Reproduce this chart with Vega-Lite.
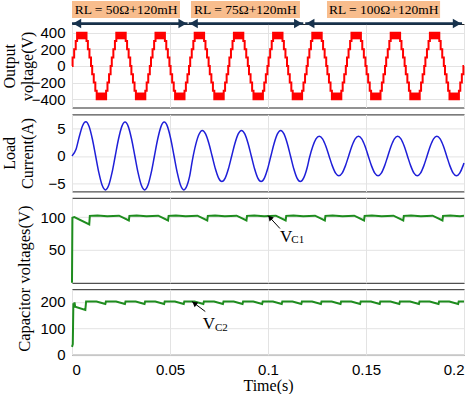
{
"$schema": "https://vega.github.io/schema/vega-lite/v6.json",
"padding": {"left": 0, "top": 0, "right": 0, "bottom": 0},
"bounds": "flush",
"spacing": 6.4,
"config": {
"view": {"stroke": "#262626", "strokeWidth": 1},
"axis": {"labelFont": "Liberation Sans", "labelFontSize": 15, "labelColor": "#000", "titleFont": "Liberation Serif", "titleFontSize": 16, "titleFontWeight": "normal", "titleColor": "#000", "gridColor": "#e3e3e3", "gridWidth": 1, "domain": false, "ticks": false, "labelPadding": 7, "labelOverlap": false, "tickCount": 12}
},
"datasets": {
"vout": [
{"t":0,"v":0},
{"t":0.0003,"v":100},{"t":0.0011,"v":200},{"t":0.0019,"v":300},{"t":0.0026,"v":400},{"t":0.0074,"v":300},{"t":0.0081,"v":200},{"t":0.0089,"v":100},{"t":0.0097,"v":0},
{"t":0.0103,"v":-100},{"t":0.0111,"v":-200},{"t":0.0119,"v":-300},{"t":0.0126,"v":-400},{"t":0.0174,"v":-300},{"t":0.0181,"v":-200},{"t":0.0189,"v":-100},{"t":0.0197,"v":0},
{"t":0.0203,"v":100},{"t":0.0211,"v":200},{"t":0.0219,"v":300},{"t":0.0226,"v":400},{"t":0.0274,"v":300},{"t":0.0281,"v":200},{"t":0.0289,"v":100},{"t":0.0297,"v":0},
{"t":0.0303,"v":-100},{"t":0.0311,"v":-200},{"t":0.0319,"v":-300},{"t":0.0326,"v":-400},{"t":0.0374,"v":-300},{"t":0.0381,"v":-200},{"t":0.0389,"v":-100},{"t":0.0397,"v":0},
{"t":0.0403,"v":100},{"t":0.0411,"v":200},{"t":0.0419,"v":300},{"t":0.0426,"v":400},{"t":0.0474,"v":300},{"t":0.0481,"v":200},{"t":0.0489,"v":100},{"t":0.0497,"v":0},
{"t":0.0503,"v":-100},{"t":0.0511,"v":-200},{"t":0.0519,"v":-300},{"t":0.0526,"v":-400},{"t":0.0574,"v":-300},{"t":0.0581,"v":-200},{"t":0.0589,"v":-100},{"t":0.0597,"v":0},
{"t":0.0603,"v":100},{"t":0.0611,"v":200},{"t":0.0619,"v":300},{"t":0.0626,"v":400},{"t":0.0674,"v":300},{"t":0.0681,"v":200},{"t":0.0689,"v":100},{"t":0.0697,"v":0},
{"t":0.0703,"v":-100},{"t":0.0711,"v":-200},{"t":0.0719,"v":-300},{"t":0.0726,"v":-400},{"t":0.0774,"v":-300},{"t":0.0781,"v":-200},{"t":0.0789,"v":-100},{"t":0.0797,"v":0},
{"t":0.0803,"v":100},{"t":0.0811,"v":200},{"t":0.0819,"v":300},{"t":0.0826,"v":400},{"t":0.0874,"v":300},{"t":0.0881,"v":200},{"t":0.0889,"v":100},{"t":0.0897,"v":0},
{"t":0.0903,"v":-100},{"t":0.0911,"v":-200},{"t":0.0919,"v":-300},{"t":0.0926,"v":-400},{"t":0.0974,"v":-300},{"t":0.0981,"v":-200},{"t":0.0989,"v":-100},{"t":0.0997,"v":0},
{"t":0.1003,"v":100},{"t":0.1011,"v":200},{"t":0.1019,"v":300},{"t":0.1026,"v":400},{"t":0.1074,"v":300},{"t":0.1081,"v":200},{"t":0.1089,"v":100},{"t":0.1097,"v":0},
{"t":0.1103,"v":-100},{"t":0.1111,"v":-200},{"t":0.1119,"v":-300},{"t":0.1126,"v":-400},{"t":0.1174,"v":-300},{"t":0.1181,"v":-200},{"t":0.1189,"v":-100},{"t":0.1197,"v":0},
{"t":0.1203,"v":100},{"t":0.1211,"v":200},{"t":0.1219,"v":300},{"t":0.1226,"v":400},{"t":0.1274,"v":300},{"t":0.1281,"v":200},{"t":0.1289,"v":100},{"t":0.1297,"v":0},
{"t":0.1303,"v":-100},{"t":0.1311,"v":-200},{"t":0.1319,"v":-300},{"t":0.1326,"v":-400},{"t":0.1374,"v":-300},{"t":0.1381,"v":-200},{"t":0.1389,"v":-100},{"t":0.1397,"v":0},
{"t":0.1403,"v":100},{"t":0.1411,"v":200},{"t":0.1419,"v":300},{"t":0.1426,"v":400},{"t":0.1474,"v":300},{"t":0.1481,"v":200},{"t":0.1489,"v":100},{"t":0.1497,"v":0},
{"t":0.1503,"v":-100},{"t":0.1511,"v":-200},{"t":0.1519,"v":-300},{"t":0.1526,"v":-400},{"t":0.1574,"v":-300},{"t":0.1581,"v":-200},{"t":0.1589,"v":-100},{"t":0.1597,"v":0},
{"t":0.1603,"v":100},{"t":0.1611,"v":200},{"t":0.1619,"v":300},{"t":0.1626,"v":400},{"t":0.1674,"v":300},{"t":0.1681,"v":200},{"t":0.1689,"v":100},{"t":0.1697,"v":0},
{"t":0.1703,"v":-100},{"t":0.1711,"v":-200},{"t":0.1719,"v":-300},{"t":0.1726,"v":-400},{"t":0.1774,"v":-300},{"t":0.1781,"v":-200},{"t":0.1789,"v":-100},{"t":0.1797,"v":0},
{"t":0.1803,"v":100},{"t":0.1811,"v":200},{"t":0.1819,"v":300},{"t":0.1826,"v":400},{"t":0.1874,"v":300},{"t":0.1881,"v":200},{"t":0.1889,"v":100},{"t":0.1897,"v":0},
{"t":0.1903,"v":-100},{"t":0.1911,"v":-200},{"t":0.1919,"v":-300},{"t":0.1926,"v":-400},{"t":0.1974,"v":-300},{"t":0.1981,"v":-200},{"t":0.1989,"v":-100},{"t":0.1997,"v":0},
{"t":0.2,"v":0}
],
"blk": [
{"t1":0.0026,"t2":0.0074,"lo":320,"hi":400},{"t1":0.0126,"t2":0.0174,"lo":-400,"hi":-320},
{"t1":0.0226,"t2":0.0274,"lo":320,"hi":400},{"t1":0.0326,"t2":0.0374,"lo":-400,"hi":-320},
{"t1":0.0426,"t2":0.0474,"lo":320,"hi":400},{"t1":0.0526,"t2":0.0574,"lo":-400,"hi":-320},
{"t1":0.0626,"t2":0.0674,"lo":320,"hi":400},{"t1":0.0726,"t2":0.0774,"lo":-400,"hi":-320},
{"t1":0.0826,"t2":0.0874,"lo":320,"hi":400},{"t1":0.0926,"t2":0.0974,"lo":-400,"hi":-320},
{"t1":0.1026,"t2":0.1074,"lo":320,"hi":400},{"t1":0.1126,"t2":0.1174,"lo":-400,"hi":-320},
{"t1":0.1226,"t2":0.1274,"lo":320,"hi":400},{"t1":0.1326,"t2":0.1374,"lo":-400,"hi":-320},
{"t1":0.1426,"t2":0.1474,"lo":320,"hi":400},{"t1":0.1526,"t2":0.1574,"lo":-400,"hi":-320},
{"t1":0.1626,"t2":0.1674,"lo":320,"hi":400},{"t1":0.1726,"t2":0.1774,"lo":-400,"hi":-320},
{"t1":0.1826,"t2":0.1874,"lo":320,"hi":400},{"t1":0.1926,"t2":0.1974,"lo":-400,"hi":-320}
],
"box": [
{"t1":0,"t2":0.0551,"lo":576,"hi":780,"tc":0.0276,"vc":672,"label":"RL = 50Ω+120mH"},
{"t1":0.0607,"t2":0.1163,"lo":576,"hi":780,"tc":0.0885,"vc":672,"label":"RL = 75Ω+120mH"},
{"t1":0.1301,"t2":0.1878,"lo":576,"hi":780,"tc":0.159,"vc":672,"label":"RL = 100Ω+120mH"}
],
"arr": [{"t1":0,"t2":0.059},{"t1":0.0595,"t2":0.118},{"t1":0.119,"t2":0.199}],
"heads": [{"t":0.0026,"d":"L"},{"t":0.0564,"d":"R"},{"t":0.0621,"d":"L"},{"t":0.1154,"d":"R"},{"t":0.1216,"d":"L"},{"t":0.1964,"d":"R"}],
"cur": [
{"t":0,"i":0},
{"t":0.00206,"i":1.2},{"t":0.00373,"i":3.5},{"t":0.00539,"i":5.45},{"t":0.00706,"i":6.15},{"t":0.00873,"i":5.3},{"t":0.01039,"i":3.05},
{"t":0.01206,"i":0},{"t":0.01373,"i":-3.05},{"t":0.01539,"i":-5.28},{"t":0.01706,"i":-6.1},{"t":0.01873,"i":-5.28},{"t":0.02039,"i":-3.05},
{"t":0.02206,"i":0},{"t":0.02373,"i":3.05},{"t":0.02539,"i":5.28},{"t":0.02706,"i":6.1},{"t":0.02873,"i":5.28},{"t":0.03039,"i":3.05},
{"t":0.03206,"i":0},{"t":0.03373,"i":-3.05},{"t":0.03539,"i":-5.28},{"t":0.03706,"i":-6.1},{"t":0.03873,"i":-5.28},{"t":0.04039,"i":-3.05},
{"t":0.04206,"i":0},{"t":0.04373,"i":3.05},{"t":0.04539,"i":5.28},{"t":0.04706,"i":6.1},{"t":0.04873,"i":5.28},{"t":0.05039,"i":3.05},
{"t":0.05206,"i":0},{"t":0.05373,"i":-3.05},{"t":0.05539,"i":-5.28},{"t":0.05706,"i":-6.1},{"t":0.05873,"i":-5.28},
{"t":0.06,"i":-3.67},
{"t":0.06148,"i":-0.64},{"t":0.06315,"i":2.08},{"t":0.06481,"i":3.9},{"t":0.06648,"i":4.6},{"t":0.06815,"i":3.98},{"t":0.06981,"i":2.3},
{"t":0.07148,"i":0},{"t":0.07315,"i":-2.3},{"t":0.07481,"i":-3.98},{"t":0.07648,"i":-4.6},{"t":0.07815,"i":-3.98},{"t":0.07981,"i":-2.3},
{"t":0.08148,"i":0},{"t":0.08315,"i":2.3},{"t":0.08481,"i":3.98},{"t":0.08648,"i":4.6},{"t":0.08815,"i":3.98},{"t":0.08981,"i":2.3},
{"t":0.09148,"i":0},{"t":0.09315,"i":-2.3},{"t":0.09481,"i":-3.98},{"t":0.09648,"i":-4.6},{"t":0.09815,"i":-3.98},{"t":0.09981,"i":-2.3},
{"t":0.10148,"i":0},{"t":0.10315,"i":2.3},{"t":0.10481,"i":3.98},{"t":0.10648,"i":4.6},{"t":0.10815,"i":3.98},{"t":0.10981,"i":2.3},
{"t":0.11148,"i":0},{"t":0.11315,"i":-2.3},{"t":0.11481,"i":-3.98},{"t":0.11648,"i":-4.6},{"t":0.11815,"i":-3.98},
{"t":0.12,"i":-2.07},
{"t":0.12115,"i":-0.32},{"t":0.12282,"i":1.7},{"t":0.12448,"i":3.07},{"t":0.12615,"i":3.55},{"t":0.12782,"i":3.07},{"t":0.12948,"i":1.78},
{"t":0.13115,"i":0},{"t":0.13282,"i":-1.78},{"t":0.13448,"i":-3.07},{"t":0.13615,"i":-3.55},{"t":0.13782,"i":-3.07},{"t":0.13948,"i":-1.78},
{"t":0.14115,"i":0},{"t":0.14282,"i":1.78},{"t":0.14448,"i":3.07},{"t":0.14615,"i":3.55},{"t":0.14782,"i":3.07},{"t":0.14948,"i":1.78},
{"t":0.15115,"i":0},{"t":0.15282,"i":-1.78},{"t":0.15448,"i":-3.07},{"t":0.15615,"i":-3.55},{"t":0.15782,"i":-3.07},{"t":0.15948,"i":-1.78},
{"t":0.16115,"i":0},{"t":0.16282,"i":1.78},{"t":0.16448,"i":3.07},{"t":0.16615,"i":3.55},{"t":0.16782,"i":3.07},{"t":0.16948,"i":1.78},
{"t":0.17115,"i":0},{"t":0.17282,"i":-1.78},{"t":0.17448,"i":-3.07},{"t":0.17615,"i":-3.55},{"t":0.17782,"i":-3.07},{"t":0.17948,"i":-1.78},
{"t":0.18115,"i":0},{"t":0.18282,"i":1.78},{"t":0.18448,"i":3.07},{"t":0.18615,"i":3.55},{"t":0.18782,"i":3.07},{"t":0.18948,"i":1.78},
{"t":0.19115,"i":0},{"t":0.19282,"i":-1.78},{"t":0.19448,"i":-3.07},{"t":0.19615,"i":-3.55},{"t":0.19782,"i":-3.07},{"t":0.19948,"i":-1.78},
{"t":0.2,"i":-1.25}
],
"vc1": [
{"t":0,"v":0},{"t":0.0002,"v":99},{"t":0.0012,"v":100},{"t":0.0088,"v":89},{"t":0.0091,"v":102},{"t":0.013,"v":102.5},{"t":0.018,"v":101.5},{"t":0.024,"v":102.2},
{"t":0.029,"v":95},{"t":0.0293,"v":102},{"t":0.033,"v":102.5},{"t":0.038,"v":101.5},{"t":0.044,"v":102.2},
{"t":0.049,"v":95},{"t":0.0493,"v":102},{"t":0.053,"v":102.5},{"t":0.058,"v":101.5},{"t":0.064,"v":102.2},
{"t":0.069,"v":95},{"t":0.0693,"v":102},{"t":0.073,"v":102.5},{"t":0.078,"v":101.5},{"t":0.084,"v":102.2},
{"t":0.089,"v":95},{"t":0.0893,"v":102},{"t":0.093,"v":102.5},{"t":0.098,"v":101.5},{"t":0.104,"v":102.2},
{"t":0.109,"v":95},{"t":0.1093,"v":102},{"t":0.113,"v":102.5},{"t":0.118,"v":101.5},{"t":0.124,"v":102.2},
{"t":0.129,"v":95},{"t":0.1293,"v":102},{"t":0.133,"v":102.5},{"t":0.138,"v":101.5},{"t":0.144,"v":102.2},
{"t":0.149,"v":95},{"t":0.1493,"v":102},{"t":0.153,"v":102.5},{"t":0.158,"v":101.5},{"t":0.164,"v":102.2},
{"t":0.169,"v":95},{"t":0.1693,"v":102},{"t":0.173,"v":102.5},{"t":0.178,"v":101.5},{"t":0.184,"v":102.2},
{"t":0.189,"v":95},{"t":0.1893,"v":102},{"t":0.193,"v":102.5},{"t":0.198,"v":101.5},{"t":0.2,"v":102}
],
"vc2": [
{"t":0,"v":30},{"t":0.0004,"v":40},{"t":0.0007,"v":195},{"t":0.001,"v":188},{"t":0.0013,"v":198},{"t":0.0016,"v":182},{"t":0.0068,"v":170},{"t":0.0072,"v":201.5},
{"t":0.0125,"v":201.5},{"t":0.017,"v":192},{"t":0.0173,"v":201.5},
{"t":0.0225,"v":201.5},{"t":0.027,"v":192},{"t":0.0273,"v":201.5},
{"t":0.0325,"v":201.5},{"t":0.037,"v":192},{"t":0.0373,"v":201.5},
{"t":0.0425,"v":201.5},{"t":0.047,"v":192},{"t":0.0473,"v":201.5},
{"t":0.0525,"v":201.5},{"t":0.057,"v":192},{"t":0.0573,"v":201.5},
{"t":0.0625,"v":201.5},{"t":0.067,"v":192},{"t":0.0673,"v":201.5},
{"t":0.0725,"v":201.5},{"t":0.077,"v":192},{"t":0.0773,"v":201.5},
{"t":0.0825,"v":201.5},{"t":0.087,"v":192},{"t":0.0873,"v":201.5},
{"t":0.0925,"v":201.5},{"t":0.097,"v":192},{"t":0.0973,"v":201.5},
{"t":0.1025,"v":201.5},{"t":0.107,"v":192},{"t":0.1073,"v":201.5},
{"t":0.1125,"v":201.5},{"t":0.117,"v":192},{"t":0.1173,"v":201.5},
{"t":0.1225,"v":201.5},{"t":0.127,"v":192},{"t":0.1273,"v":201.5},
{"t":0.1325,"v":201.5},{"t":0.137,"v":192},{"t":0.1373,"v":201.5},
{"t":0.1425,"v":201.5},{"t":0.147,"v":192},{"t":0.1473,"v":201.5},
{"t":0.1525,"v":201.5},{"t":0.157,"v":192},{"t":0.1573,"v":201.5},
{"t":0.1625,"v":201.5},{"t":0.167,"v":192},{"t":0.1673,"v":201.5},
{"t":0.1725,"v":201.5},{"t":0.177,"v":192},{"t":0.1773,"v":201.5},
{"t":0.1825,"v":201.5},{"t":0.187,"v":192},{"t":0.1873,"v":201.5},
{"t":0.1925,"v":201.5},{"t":0.197,"v":192},{"t":0.1973,"v":201.5},
{"t":0.2,"v":201.5}
]
},
"vconcat": [
{
"width": 392, "height": 83.5,
"layer": [
{"data": {"name": "vout"}, "mark": {"type": "line", "color": "#ff0000", "strokeWidth": 2, "interpolate": "step-after"},
"encoding": {
"x": {"field": "t", "type": "quantitative", "scale": {"domain": [0, 0.2], "nice": false, "zero": false}, "axis": {"values": [0, 0.05, 0.1, 0.15, 0.2], "labels": false, "title": null, "grid": true, "tickCount": 12}},
"y": {"field": "v", "type": "quantitative", "scale": {"domain": [-500, 504], "nice": false, "zero": false}, "axis": {"values": [-400, -200, 0, 200, 400], "tickCount": 12, "labelOverlap": false, "title": ["Output", "voltage(V)"], "titleX": -55, "titleY": 41.75, "titleAngle": -90, "titleBaseline": "bottom", "titleAlign": "center", "titleLineHeight": 18}}}},
{"data": {"name": "blk"}, "mark": {"type": "rect", "color": "#ff0000"},
"encoding": {"x": {"field": "t1", "type": "quantitative"}, "x2": {"field": "t2"}, "y": {"field": "lo", "type": "quantitative"}, "y2": {"field": "hi"}}},
{"data": {"name": "box"}, "mark": {"type": "rect", "color": "#f8bd8d"},
"encoding": {"x": {"field": "t1", "type": "quantitative"}, "x2": {"field": "t2"}, "y": {"field": "lo", "type": "quantitative"}, "y2": {"field": "hi"}}},
{"data": {"name": "box"}, "mark": {"type": "text", "font": "Liberation Serif", "fontSize": 13.5, "color": "#000", "baseline": "middle", "align": "center"},
"encoding": {"x": {"field": "tc", "type": "quantitative"}, "y": {"field": "vc", "type": "quantitative"}, "text": {"field": "label"}}},
{"data": {"name": "arr"}, "mark": {"type": "rule", "color": "#17324d", "strokeWidth": 2.5},
"encoding": {"x": {"field": "t1", "type": "quantitative"}, "x2": {"field": "t2"}, "y": {"datum": 510}}},
{"data": {"name": "heads"}, "mark": {"type": "point", "filled": true, "color": "#17324d", "size": 90, "opacity": 1},
"encoding": {"x": {"field": "t", "type": "quantitative"}, "y": {"datum": 510}, "shape": {"field": "d", "type": "nominal", "scale": {"domain": ["L", "R"], "range": ["triangle-left", "triangle-right"]}, "legend": null}}}
]
},
{
"width": 392, "height": 77,
"data": {"name": "cur"},
"mark": {"type": "line", "color": "#1f1fd8", "strokeWidth": 1.5, "interpolate": "monotone"},
"encoding": {
"x": {"field": "t", "type": "quantitative", "scale": {"domain": [0, 0.2], "nice": false, "zero": false}, "axis": {"values": [0, 0.05, 0.1, 0.15, 0.2], "labels": false, "title": null, "grid": true, "tickCount": 12}},
"y": {"field": "i", "type": "quantitative", "scale": {"domain": [-6.37, 7.48], "nice": false, "zero": false}, "axis": {"values": [-5, 0, 5], "tickCount": 12, "labelOverlap": false, "title": ["Load", "Current(A)"], "titleX": -55, "titleY": 38.5, "titleAngle": -90, "titleBaseline": "bottom", "titleAlign": "center", "titleLineHeight": 18}}
}
},
{
"width": 392, "height": 85,
"layer": [
{"data": {"name": "vc1"}, "mark": {"type": "line", "color": "#1e8c1e", "strokeWidth": 2},
"encoding": {
"x": {"field": "t", "type": "quantitative", "scale": {"domain": [0, 0.2], "nice": false, "zero": false}, "axis": {"values": [0, 0.05, 0.1, 0.15, 0.2], "labels": false, "title": null, "grid": true, "tickCount": 12}},
"y": {"field": "v", "type": "quantitative", "scale": {"domain": [0, 129.5], "nice": false, "zero": false}, "axis": {"values": [50, 100], "tickCount": 12, "labelOverlap": false, "title": null}}}},
{"data": {"values": [{"t1": 0.1061, "v1": 82.7, "t2": 0.1, "v2": 102.5}]}, "mark": {"type": "rule", "color": "#000", "strokeWidth": 1},
"encoding": {"x": {"field": "t1", "type": "quantitative"}, "y": {"field": "v1", "type": "quantitative"}, "x2": {"field": "t2"}, "y2": {"field": "v2"}}},
{"data": {"values": [{"t": 0.101, "v": 99.2}]}, "mark": {"type": "point", "shape": "triangle-up", "angle": -43, "filled": true, "color": "#000", "size": 35, "opacity": 1},
"encoding": {"x": {"field": "t", "type": "quantitative"}, "y": {"field": "v", "type": "quantitative"}}},
{"data": {"values": [{"t": 0.1092, "v": 70.5, "s": "V", "f": 17}, {"t": 0.1152, "v": 65.2, "s": "C1", "f": 11}]}, "mark": {"type": "text", "font": "Liberation Serif", "color": "#000", "baseline": "middle", "align": "center"},
"encoding": {"x": {"field": "t", "type": "quantitative"}, "y": {"field": "v", "type": "quantitative"}, "text": {"field": "s"}, "size": {"field": "f", "type": "quantitative", "scale": null}}}
]
},
{
"width": 392, "height": 65.6,
"layer": [
{"data": {"name": "vc2"}, "mark": {"type": "line", "color": "#1e8c1e", "strokeWidth": 2},
"encoding": {
"x": {"field": "t", "type": "quantitative", "scale": {"domain": [0, 0.2], "nice": false, "zero": false}, "axis": {"values": [0, 0.05, 0.1, 0.15, 0.2], "tickCount": 12, "format": "~g", "labelOverlap": false, "title": "Time(s)", "grid": true, "labelPadding": 8, "titleY": 23, "titleBaseline": "top"}},
"y": {"field": "v", "type": "quantitative", "scale": {"domain": [0, 248], "nice": false, "zero": false}, "axis": {"values": [0, 100, 200], "tickCount": 12, "labelOverlap": false, "title": "Capacitor voltages(V)", "titleX": -40, "titleY": -11, "titleAngle": -90, "titleBaseline": "bottom", "titleAlign": "center", "titleFontSize": 16.5}}}},
{"data": {"values": [{"t1": 0.068, "v1": 163.7, "t2": 0.0612, "v2": 201.5}]}, "mark": {"type": "rule", "color": "#000", "strokeWidth": 1},
"encoding": {"x": {"field": "t1", "type": "quantitative"}, "y": {"field": "v1", "type": "quantitative"}, "x2": {"field": "t2"}, "y2": {"field": "v2"}}},
{"data": {"values": [{"t": 0.06245, "v": 194.7}]}, "mark": {"type": "point", "shape": "triangle-up", "angle": -53, "filled": true, "color": "#000", "size": 35, "opacity": 1},
"encoding": {"x": {"field": "t", "type": "quantitative"}, "y": {"field": "v", "type": "quantitative"}}},
{"data": {"values": [{"t": 0.0699, "v": 118, "s": "V", "f": 17}, {"t": 0.0762, "v": 103, "s": "C2", "f": 11}]}, "mark": {"type": "text", "font": "Liberation Serif", "color": "#000", "baseline": "middle", "align": "center"},
"encoding": {"x": {"field": "t", "type": "quantitative"}, "y": {"field": "v", "type": "quantitative"}, "text": {"field": "s"}, "size": {"field": "f", "type": "quantitative", "scale": null}}}
]
}
]
}
